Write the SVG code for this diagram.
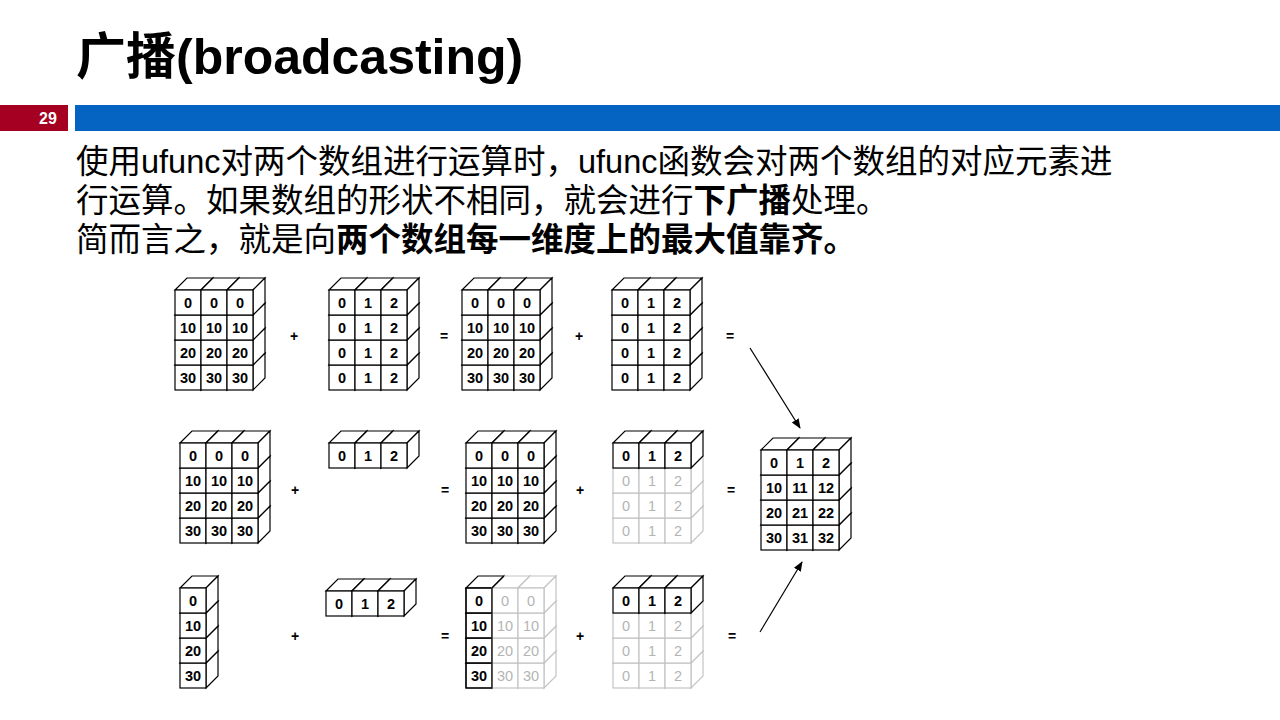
<svg xmlns="http://www.w3.org/2000/svg" xmlns:xlink="http://www.w3.org/1999/xlink" width="1280" height="720" viewBox="0 0 1280 720">
<style>
.t{font-family:"Liberation Sans","Noto Sans CJK SC",sans-serif}
use{stroke:#000;fill:#fff;stroke-width:1.2}
use.g{stroke:#c4c4c4}
.n{font-family:"Liberation Sans",sans-serif;font-size:14.5px;font-weight:bold;text-anchor:middle;fill:#000}
.ng{font-family:"Liberation Sans",sans-serif;font-size:14.5px;text-anchor:middle;fill:#b4b4b4}
.op{font-family:"Liberation Sans",sans-serif;font-size:14px;font-weight:bold;text-anchor:middle}
</style>
<defs>
<g id="k"><polygon points="0,0 12,-12 38,-12 26,0"/><polygon points="26,0 38,-12 38,13 26,25"/><rect width="26" height="25"/></g>
<marker id="ah" markerWidth="10" markerHeight="10" refX="9" refY="5" orient="auto" markerUnits="userSpaceOnUse"><path d="M0,1 L10,5 L0,9z" fill="#000"/></marker>
</defs>
<rect width="1280" height="720" fill="#fff"/>
<text class="t" x="76" y="74" font-size="50" font-weight="bold">广播(broadcasting)</text>
<rect x="0" y="105" width="68" height="26" fill="#a50021"/>
<text class="t" x="48" y="124" font-size="16" font-weight="bold" fill="#fff" text-anchor="middle">29</text>
<rect x="75" y="105" width="1205" height="26" fill="#0563c1"/>
<text class="t" font-size="32.5" fill="#000"><tspan x="76" y="173">使用ufunc对两个数组进行运算时，ufunc函数会对两个数组的对应元素进</tspan><tspan x="76" y="212">行运算。如果数组的形状不相同，就会进行<tspan font-weight="bold">下广播</tspan>处理。</tspan><tspan x="76" y="251">简而言之，就是向<tspan font-weight="bold">两个数组每一维度上的最大值靠齐。</tspan></tspan></text>

<g id="A1">
<use href="#k" x="175" y="365"/><use href="#k" x="201" y="365"/><use href="#k" x="227" y="365"/>
<use href="#k" x="175" y="340"/><use href="#k" x="201" y="340"/><use href="#k" x="227" y="340"/>
<use href="#k" x="175" y="315"/><use href="#k" x="201" y="315"/><use href="#k" x="227" y="315"/>
<use href="#k" x="175" y="290"/><use href="#k" x="201" y="290"/><use href="#k" x="227" y="290"/>
<text class="n" x="188" y="308">0</text><text class="n" x="214" y="308">0</text><text class="n" x="240" y="308">0</text>
<text class="n" x="188" y="333">10</text><text class="n" x="214" y="333">10</text><text class="n" x="240" y="333">10</text>
<text class="n" x="188" y="358">20</text><text class="n" x="214" y="358">20</text><text class="n" x="240" y="358">20</text>
<text class="n" x="188" y="383">30</text><text class="n" x="214" y="383">30</text><text class="n" x="240" y="383">30</text>
</g>
<g id="B1">
<use href="#k" x="329" y="365"/><use href="#k" x="355" y="365"/><use href="#k" x="381" y="365"/>
<use href="#k" x="329" y="340"/><use href="#k" x="355" y="340"/><use href="#k" x="381" y="340"/>
<use href="#k" x="329" y="315"/><use href="#k" x="355" y="315"/><use href="#k" x="381" y="315"/>
<use href="#k" x="329" y="290"/><use href="#k" x="355" y="290"/><use href="#k" x="381" y="290"/>
<text class="n" x="342" y="308">0</text><text class="n" x="368" y="308">1</text><text class="n" x="394" y="308">2</text>
<text class="n" x="342" y="333">0</text><text class="n" x="368" y="333">1</text><text class="n" x="394" y="333">2</text>
<text class="n" x="342" y="358">0</text><text class="n" x="368" y="358">1</text><text class="n" x="394" y="358">2</text>
<text class="n" x="342" y="383">0</text><text class="n" x="368" y="383">1</text><text class="n" x="394" y="383">2</text>
</g>
<g id="C1">
<use href="#k" x="462" y="365"/><use href="#k" x="488" y="365"/><use href="#k" x="514" y="365"/>
<use href="#k" x="462" y="340"/><use href="#k" x="488" y="340"/><use href="#k" x="514" y="340"/>
<use href="#k" x="462" y="315"/><use href="#k" x="488" y="315"/><use href="#k" x="514" y="315"/>
<use href="#k" x="462" y="290"/><use href="#k" x="488" y="290"/><use href="#k" x="514" y="290"/>
<text class="n" x="475" y="308">0</text><text class="n" x="501" y="308">0</text><text class="n" x="527" y="308">0</text>
<text class="n" x="475" y="333">10</text><text class="n" x="501" y="333">10</text><text class="n" x="527" y="333">10</text>
<text class="n" x="475" y="358">20</text><text class="n" x="501" y="358">20</text><text class="n" x="527" y="358">20</text>
<text class="n" x="475" y="383">30</text><text class="n" x="501" y="383">30</text><text class="n" x="527" y="383">30</text>
</g>
<g id="D1">
<use href="#k" x="612" y="365"/><use href="#k" x="638" y="365"/><use href="#k" x="664" y="365"/>
<use href="#k" x="612" y="340"/><use href="#k" x="638" y="340"/><use href="#k" x="664" y="340"/>
<use href="#k" x="612" y="315"/><use href="#k" x="638" y="315"/><use href="#k" x="664" y="315"/>
<use href="#k" x="612" y="290"/><use href="#k" x="638" y="290"/><use href="#k" x="664" y="290"/>
<text class="n" x="625" y="308">0</text><text class="n" x="651" y="308">1</text><text class="n" x="677" y="308">2</text>
<text class="n" x="625" y="333">0</text><text class="n" x="651" y="333">1</text><text class="n" x="677" y="333">2</text>
<text class="n" x="625" y="358">0</text><text class="n" x="651" y="358">1</text><text class="n" x="677" y="358">2</text>
<text class="n" x="625" y="383">0</text><text class="n" x="651" y="383">1</text><text class="n" x="677" y="383">2</text>
</g>

<g id="A2">
<use href="#k" x="180" y="518"/><use href="#k" x="206" y="518"/><use href="#k" x="232" y="518"/>
<use href="#k" x="180" y="493"/><use href="#k" x="206" y="493"/><use href="#k" x="232" y="493"/>
<use href="#k" x="180" y="468"/><use href="#k" x="206" y="468"/><use href="#k" x="232" y="468"/>
<use href="#k" x="180" y="443"/><use href="#k" x="206" y="443"/><use href="#k" x="232" y="443"/>
<text class="n" x="193" y="461">0</text><text class="n" x="219" y="461">0</text><text class="n" x="245" y="461">0</text>
<text class="n" x="193" y="486">10</text><text class="n" x="219" y="486">10</text><text class="n" x="245" y="486">10</text>
<text class="n" x="193" y="511">20</text><text class="n" x="219" y="511">20</text><text class="n" x="245" y="511">20</text>
<text class="n" x="193" y="536">30</text><text class="n" x="219" y="536">30</text><text class="n" x="245" y="536">30</text>
</g>
<g id="B2">
<use href="#k" x="329" y="443"/><use href="#k" x="355" y="443"/><use href="#k" x="381" y="443"/>
<text class="n" x="342" y="461">0</text><text class="n" x="368" y="461">1</text><text class="n" x="394" y="461">2</text>
</g>
<g id="C2">
<use href="#k" x="466" y="518"/><use href="#k" x="492" y="518"/><use href="#k" x="518" y="518"/>
<use href="#k" x="466" y="493"/><use href="#k" x="492" y="493"/><use href="#k" x="518" y="493"/>
<use href="#k" x="466" y="468"/><use href="#k" x="492" y="468"/><use href="#k" x="518" y="468"/>
<use href="#k" x="466" y="443"/><use href="#k" x="492" y="443"/><use href="#k" x="518" y="443"/>
<text class="n" x="479" y="461">0</text><text class="n" x="505" y="461">0</text><text class="n" x="531" y="461">0</text>
<text class="n" x="479" y="486">10</text><text class="n" x="505" y="486">10</text><text class="n" x="531" y="486">10</text>
<text class="n" x="479" y="511">20</text><text class="n" x="505" y="511">20</text><text class="n" x="531" y="511">20</text>
<text class="n" x="479" y="536">30</text><text class="n" x="505" y="536">30</text><text class="n" x="531" y="536">30</text>
</g>
<g id="D2">
<use class="g" href="#k" x="613" y="518"/><use class="g" href="#k" x="639" y="518"/><use class="g" href="#k" x="665" y="518"/>
<use class="g" href="#k" x="613" y="493"/><use class="g" href="#k" x="639" y="493"/><use class="g" href="#k" x="665" y="493"/>
<use class="g" href="#k" x="613" y="468"/><use class="g" href="#k" x="639" y="468"/><use class="g" href="#k" x="665" y="468"/>
<use href="#k" x="613" y="443"/><use href="#k" x="639" y="443"/><use href="#k" x="665" y="443"/>
<text class="n" x="626" y="461">0</text><text class="n" x="652" y="461">1</text><text class="n" x="678" y="461">2</text>
<text class="ng" x="626" y="486">0</text><text class="ng" x="652" y="486">1</text><text class="ng" x="678" y="486">2</text>
<text class="ng" x="626" y="511">0</text><text class="ng" x="652" y="511">1</text><text class="ng" x="678" y="511">2</text>
<text class="ng" x="626" y="536">0</text><text class="ng" x="652" y="536">1</text><text class="ng" x="678" y="536">2</text>
</g>

<g id="A3">
<use href="#k" x="180" y="663"/><use href="#k" x="180" y="638"/><use href="#k" x="180" y="613"/><use href="#k" x="180" y="588"/>
<text class="n" x="193" y="606">0</text><text class="n" x="193" y="631">10</text><text class="n" x="193" y="656">20</text><text class="n" x="193" y="681">30</text>
</g>
<g id="B3">
<use href="#k" x="326" y="591"/><use href="#k" x="352" y="591"/><use href="#k" x="378" y="591"/>
<text class="n" x="339" y="609">0</text><text class="n" x="365" y="609">1</text><text class="n" x="391" y="609">2</text>
</g>
<g id="C3">
<use href="#k" x="466" y="663"/><use href="#k" x="466" y="638"/><use href="#k" x="466" y="613"/><use href="#k" x="466" y="588"/>
<use class="g" href="#k" x="492" y="663"/><use class="g" href="#k" x="518" y="663"/>
<use class="g" href="#k" x="492" y="638"/><use class="g" href="#k" x="518" y="638"/>
<use class="g" href="#k" x="492" y="613"/><use class="g" href="#k" x="518" y="613"/>
<use class="g" href="#k" x="492" y="588"/><use class="g" href="#k" x="518" y="588"/>
<path d="M466,588H492V688H466Z M466,613H492 M466,638H492 M466,663H492 M492,588L504,576" fill="none" stroke="#000" stroke-width="1.2"/>
<text class="n" x="479" y="606">0</text><text class="ng" x="505" y="606">0</text><text class="ng" x="531" y="606">0</text>
<text class="n" x="479" y="631">10</text><text class="ng" x="505" y="631">10</text><text class="ng" x="531" y="631">10</text>
<text class="n" x="479" y="656">20</text><text class="ng" x="505" y="656">20</text><text class="ng" x="531" y="656">20</text>
<text class="n" x="479" y="681">30</text><text class="ng" x="505" y="681">30</text><text class="ng" x="531" y="681">30</text>
</g>
<g id="D3">
<use class="g" href="#k" x="613" y="663"/><use class="g" href="#k" x="639" y="663"/><use class="g" href="#k" x="665" y="663"/>
<use class="g" href="#k" x="613" y="638"/><use class="g" href="#k" x="639" y="638"/><use class="g" href="#k" x="665" y="638"/>
<use class="g" href="#k" x="613" y="613"/><use class="g" href="#k" x="639" y="613"/><use class="g" href="#k" x="665" y="613"/>
<use href="#k" x="613" y="588"/><use href="#k" x="639" y="588"/><use href="#k" x="665" y="588"/>
<text class="n" x="626" y="606">0</text><text class="n" x="652" y="606">1</text><text class="n" x="678" y="606">2</text>
<text class="ng" x="626" y="631">0</text><text class="ng" x="652" y="631">1</text><text class="ng" x="678" y="631">2</text>
<text class="ng" x="626" y="656">0</text><text class="ng" x="652" y="656">1</text><text class="ng" x="678" y="656">2</text>
<text class="ng" x="626" y="681">0</text><text class="ng" x="652" y="681">1</text><text class="ng" x="678" y="681">2</text>
</g>

<g id="R">
<use href="#k" x="761" y="525"/><use href="#k" x="787" y="525"/><use href="#k" x="813" y="525"/>
<use href="#k" x="761" y="500"/><use href="#k" x="787" y="500"/><use href="#k" x="813" y="500"/>
<use href="#k" x="761" y="475"/><use href="#k" x="787" y="475"/><use href="#k" x="813" y="475"/>
<use href="#k" x="761" y="450"/><use href="#k" x="787" y="450"/><use href="#k" x="813" y="450"/>
<text class="n" x="774" y="468">0</text><text class="n" x="800" y="468">1</text><text class="n" x="826" y="468">2</text>
<text class="n" x="774" y="493">10</text><text class="n" x="800" y="493">11</text><text class="n" x="826" y="493">12</text>
<text class="n" x="774" y="518">20</text><text class="n" x="800" y="518">21</text><text class="n" x="826" y="518">22</text>
<text class="n" x="774" y="543">30</text><text class="n" x="800" y="543">31</text><text class="n" x="826" y="543">32</text>
</g>

<g id="ops">
<text class="op" x="294" y="341">+</text><text class="op" x="444" y="341">=</text><text class="op" x="579" y="341">+</text><text class="op" x="730" y="341">=</text>
<text class="op" x="295" y="495">+</text><text class="op" x="445" y="495">=</text><text class="op" x="580" y="495">+</text><text class="op" x="731" y="495">=</text>
<text class="op" x="295" y="641">+</text><text class="op" x="445" y="641">=</text><text class="op" x="580" y="641">+</text><text class="op" x="732" y="641">=</text>
</g>
<g id="connectors" stroke="#000" stroke-width="1.2" fill="none">
<line x1="750" y1="348" x2="800" y2="428" marker-end="url(#ah)"/>
<line x1="760" y1="632" x2="802" y2="562" marker-end="url(#ah)"/>
</g>
</svg>
